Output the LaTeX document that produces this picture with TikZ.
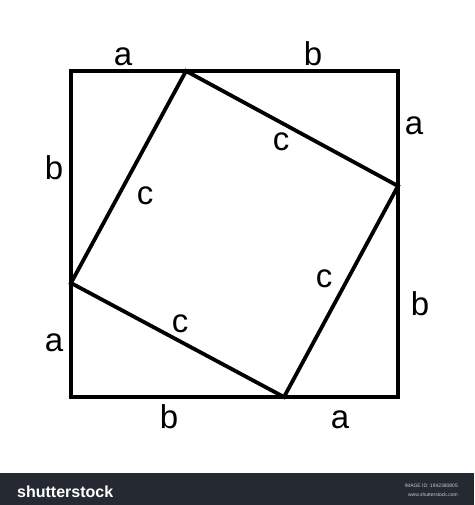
\documentclass[tikz,border=0pt]{standalone}
\usepackage{fontspec}
\setmainfont{Liberation Sans}
\definecolor{banner}{RGB}{37,41,50}
\definecolor{bannertext}{RGB}{200,203,208}
\begin{document}
\begin{tikzpicture}[x=1pt,y=-1pt,
  edge/.style={line width=3.8pt,line join=miter,line cap=rect},
  lbl/.style={anchor=base,inner sep=0pt,font=\fontsize{33}{33}\selectfont}]
\useasboundingbox (0,0) rectangle (474,505);
\fill[white] (0,0) rectangle (474,505);
% outer square corners
\coordinate (TL) at (71,71);
\coordinate (TR) at (398,71);
\coordinate (BR) at (398,397);
\coordinate (BL) at (71,397);
% inner square vertices
\coordinate (T) at (186,71);
\coordinate (R) at (398,186);
\coordinate (B) at (284,397);
\coordinate (L) at (71,283);
\draw[edge] (TL) -- (TR) -- (BR) -- (BL) -- cycle;
\draw[edge] (T) -- (R) -- (B) -- (L) -- cycle;
% side labels
\node[lbl] (la1) at (123,66) {a};
\node[lbl] (lb1) at (313,66) {b};
\node[lbl] (la2) at (414,135) {a};
\node[lbl] (lb2) at (420,315) {b};
\node[lbl] (la3) at (340,428) {a};
\node[lbl] (lb3) at (169,428) {b};
\node[lbl] (la4) at (54,351) {a};
\node[lbl] (lb4) at (54,179) {b};
% hypotenuse labels
\node[lbl] (lc1) at (281,150) {c};
\node[lbl] (lc2) at (145,204) {c};
\node[lbl] (lc3) at (324,287) {c};
\node[lbl] (lc4) at (180,332) {c};
% banner
\fill[banner] (0,473) rectangle (474,505);
\node[anchor=base west,inner sep=0pt,text=white,font=\bfseries\fontsize{16}{16}\selectfont] (logo) at (17,497) {shutterstock};
\node[anchor=base east,inner sep=0pt,text=bannertext,font=\fontsize{5}{5}\selectfont] (imgid) at (458,487) {IMAGE ID: 1942380805};
\node[anchor=base east,inner sep=0pt,text=bannertext,font=\fontsize{5}{5}\selectfont] (www) at (458,496) {www.shutterstock.com};
\end{tikzpicture}
\end{document}
